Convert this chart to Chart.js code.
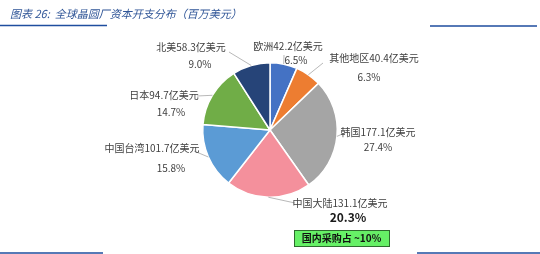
<html>
<head>
<meta charset="utf-8">
<title>全球晶圆厂资本开支分布</title>
<script src="https://cdn.jsdelivr.net/npm/chart.js@4.4.0/dist/chart.umd.min.js"></script>
<style>
  html, body { margin: 0; padding: 0; background: #fff; }
  #wrap { width: 540px; height: 254px; position: relative; }
</style>
</head>
<body>
<div id="wrap"><canvas id="capexChart" width="540" height="254"></canvas></div>

<script>
// data
const regions = ['欧洲', '其他地区', '韩国', '中国大陆', '中国台湾', '日本', '北美']
const capex = [42.2, 40.4, 177.1, 131.1, 101.7, 94.7, 58.3]   // 亿美元
const shares = ['6.5%', '6.3%', '27.4%', '20.3%', '15.8%', '14.7%', '9.0%']
const colors = ['#4472c4', '#ed7d31', '#a5a5a5', '#f4909c', '#5b9bd5', '#70ad47', '#264478']

const titleText = '图表 26:  全球晶圆厂资本开支分布（百万美元）'
const noteText = '国内采购占 ~10%'

// where each label sits: name centre, percent centre, leader end
const labelPos = [
  { nx: 288, ny: 46, px: 296, py: 60, lx: 284, ly: 55 },
  { nx: 374, ny: 58, px: 369, py: 77, lx: 323, ly: 63 },
  { nx: 378, ny: 132, px: 378, py: 147, lx: 347, ly: 132 },
  { nx: 340, ny: 203, px: 348, py: 217, lx: 295, ly: 203 },
  { nx: 152, ny: 148, px: 171, py: 168, lx: 194, ly: 151 },
  { nx: 164, ny: 95, px: 171, py: 112, lx: 197, ly: 96 },
  { nx: 191, ny: 47, px: 200, py: 64, lx: 229, ly: 52 }
]

const cjk = '"Noto Sans CJK SC", "Microsoft YaHei", sans-serif'

const labelPlugin = {
  id: 'labels',
  afterDraw(chart) {
    const ctx = chart.ctx
    const arcs = chart.getDatasetMeta(0).data
    ctx.save()

    // header / footer rules
    ctx.strokeStyle = '#1f4e9f'
    ctx.lineWidth = 1.5
    ctx.beginPath()
    ctx.moveTo(0, 25.5); ctx.lineTo(107, 25.5)
    ctx.moveTo(430, 26); ctx.lineTo(537, 26)
    ctx.moveTo(0, 253); ctx.lineTo(103, 253)
    ctx.moveTo(417, 253); ctx.lineTo(540, 253)
    ctx.stroke()

    ctx.fillStyle = '#2f5597'
    ctx.font = 'italic 11px ' + cjk
    ctx.textAlign = 'left'
    ctx.textBaseline = 'middle'
    ctx.fillText(titleText, 10, 14)

    // leader lines + labels
    arcs.forEach((arc, i) => {
      const p = labelPos[i]
      const mid = (arc.startAngle + arc.endAngle) / 2
      const ox = arc.x + Math.cos(mid) * arc.outerRadius
      const oy = arc.y + Math.sin(mid) * arc.outerRadius
      ctx.strokeStyle = '#a6a6a6'
      ctx.lineWidth = 0.8
      ctx.beginPath()
      ctx.moveTo(ox, oy)
      ctx.lineTo(p.lx, p.ly)
      ctx.stroke()

      ctx.fillStyle = '#404040'
      ctx.textAlign = 'center'
      ctx.font = '10px ' + cjk
      ctx.fillText(regions[i] + capex[i].toFixed(1) + '亿美元', p.nx, p.ny)
      if (i === 3) {
        ctx.fillStyle = '#1a1a1a'
        ctx.font = 'bold 12px ' + cjk
      }
      ctx.fillText(shares[i], p.px, p.py)
    })

    // green note box
    ctx.fillStyle = '#66f066'
    ctx.fillRect(294, 230, 95, 16)
    ctx.strokeStyle = '#2e6b2e'
    ctx.lineWidth = 1
    ctx.strokeRect(294.5, 230.5, 95, 16)
    ctx.fillStyle = '#111'
    ctx.font = 'bold 10px ' + cjk
    ctx.textAlign = 'center'
    ctx.fillText(noteText, 341.5, 238.5)
    ctx.restore()
  }
}

new Chart(document.getElementById('capexChart'), {
  type: 'pie',
  data: {
    labels: regions,
    datasets: [{
      data: capex,
      backgroundColor: colors,
      borderColor: '#ffffff',
      borderWidth: 1.5,
      hoverOffset: 0
    }]
  },
  options: {
    responsive: false,
    animation: false,
    layout: { padding: { left: 202, right: 202, top: 62, bottom: 56 } },
    plugins: {
      legend: { display: false },
      tooltip: { enabled: false }
    }
  },
  plugins: [labelPlugin]
})
</script>
</body>
</html>
